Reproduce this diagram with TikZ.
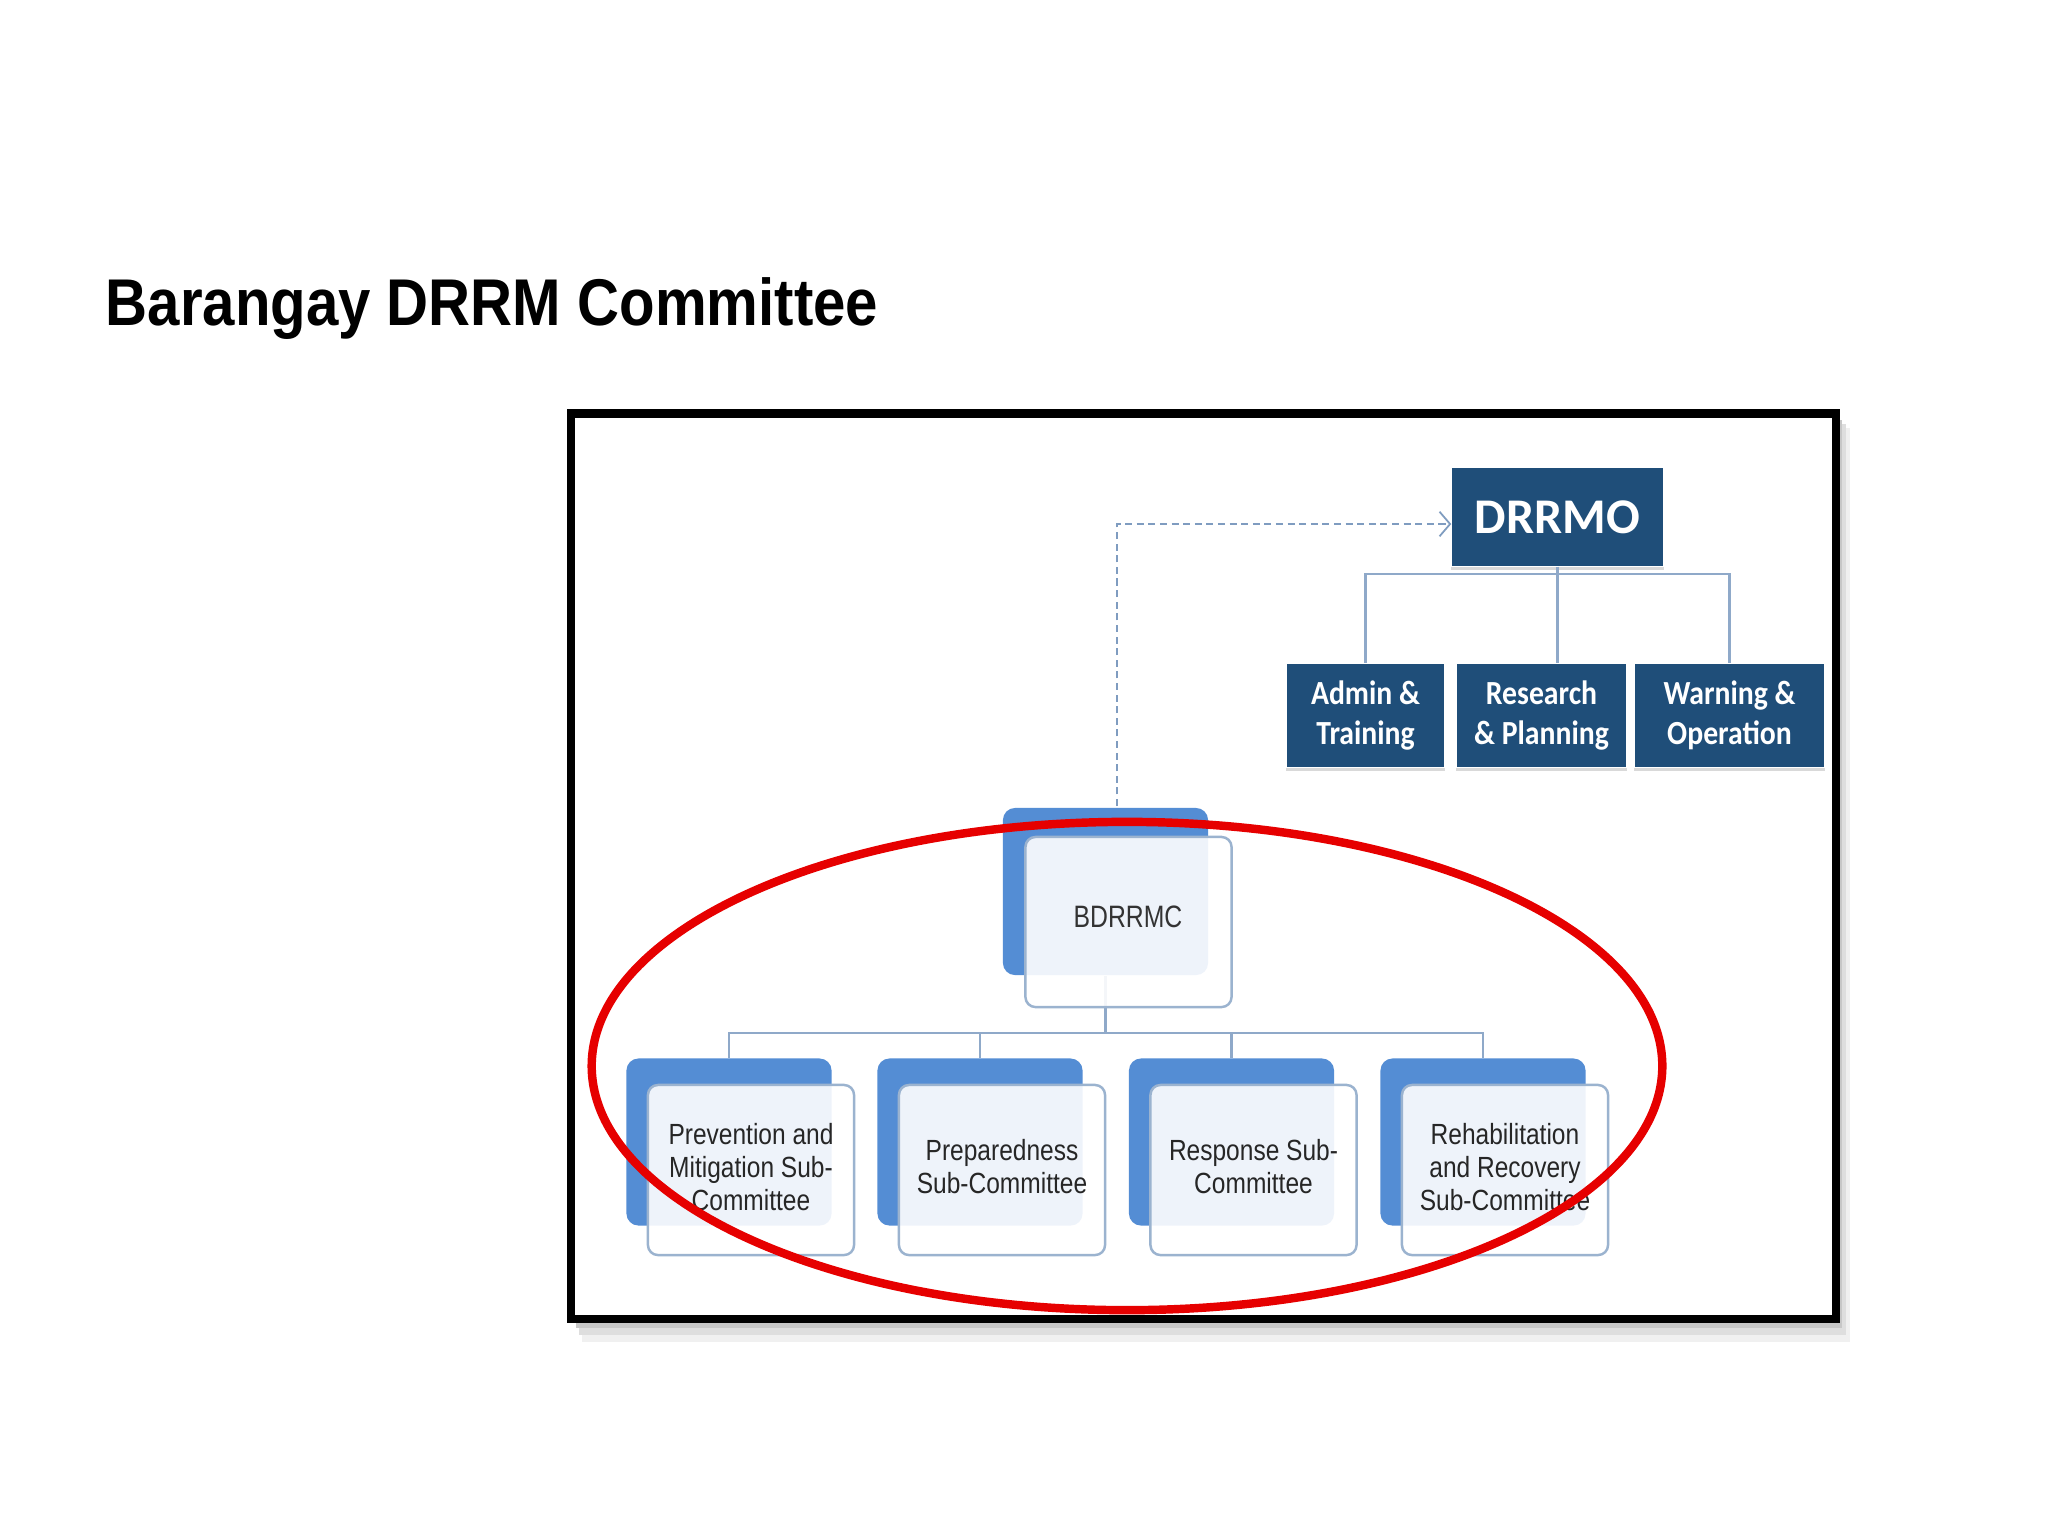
\documentclass[tikz,border=0pt]{standalone}
\usepackage{fontspec}
\setmainfont{Liberation Sans}
\newfontfamily\titlefont[FakeStretch=0.88]{Liberation Sans}
\newfontfamily\subfont[FakeStretch=0.84]{Liberation Sans}
\newfontfamily\bdfont[FakeStretch=0.8]{Liberation Sans}
\newfontfamily\calfont{Carlito}
\newfontfamily\calnarrow[FakeStretch=0.88]{Carlito}
\usetikzlibrary{arrows.meta,calc}
\definecolor{navy}{HTML}{1F4E79}
\definecolor{backblue}{HTML}{548DD4}
\definecolor{frontline}{HTML}{9BB3CF}
\definecolor{connline}{HTML}{8FA9C9}
\definecolor{dashline}{HTML}{7F9CC0}
\definecolor{ellred}{HTML}{E60000}
\tikzset{
  drrmobox/.style={fill=navy, inner sep=0, minimum width=2.11cm, minimum height=0.98cm, text=white,
    font=\calfont\bfseries\fontsize{14.2}{17}\selectfont},
  unitbox/.style={fill=navy, inner sep=0, minimum height=1.03cm, text=white, align=center,
    font=\calnarrow\bfseries\fontsize{9.6}{11.4}\selectfont},
  backbox/.style={fill=backblue, rounded corners=0.12cm, inner sep=0, minimum width=2.05cm, minimum height=1.67cm},
  frontbox/.style={fill=white, fill opacity=0.9, draw=frontline, line width=0.7pt, rounded corners=0.1cm,
    inner sep=0, minimum width=2.06cm, minimum height=1.70cm},
  subtext/.style={text=black!85, align=center, inner sep=0, font=\subfont\fontsize{8.3}{9.4}\selectfont},
  conn/.style={draw=connline, line width=0.6pt},
  shadowline/.style={draw=black!15, line width=0.8pt}
}
\begin{document}
\begin{tikzpicture}[x=0.01cm, y=-0.01cm]
\useasboundingbox (0,0) rectangle (2048,1536);
\fill[white] (0,0) rectangle (2048,1536);

% title
\node[anchor=base west, inner sep=0, font=\titlefont\bfseries\fontsize{18.8}{22}\selectfont] (title) at (105,325) {Barangay DRRM Committee};

% frame with shadow
\fill[black!6] (582,428) rectangle (1850,1342);
\fill[black!13] (579,424) rectangle (1846,1335);
\fill[black!22] (576,420) rectangle (1842,1328);
\draw[black, line width=2.4pt, fill=white] (571,413.5) rectangle (1836,1319);

% DRRMO group
\node[drrmobox] (drrmo) at (1557.5,517) {DRRMO};
\node[unitbox, minimum width=1.57cm] (admin) at (1365.5,715.5) {Admin \&\\Training};
\node[unitbox, minimum width=1.69cm] (research) at (1541.5,715.5) {Research\\\& Planning};
\node[unitbox, minimum width=1.89cm] (warning) at (1729.5,715.5) {Warning \&\\Operation};
\foreach \n in {admin,research,warning}{
  \draw[shadowline] ($(\n.south west)+(0,2)$) -- ($(\n.south east)+(0,2)$);
}
\draw[shadowline] ($(drrmo.south west)+(0,2)$) -- ($(drrmo.south east)+(0,2)$);
\coordinate (tbar) at ($(drrmo.south)+(0,7)$);
\draw[conn] (drrmo.south) -- (drrmo.south |- research.north);
\draw[conn] (tbar) -| (admin.north);
\draw[conn] (tbar) -| (warning.north);

% BDRRMC group
\node[backbox] (bdback) at (1105.5,891.5) {};
\node[backbox] (s1back) at (729,1142) {};
\node[backbox] (s2back) at (980,1142) {};
\node[backbox] (s3back) at (1231.5,1142) {};
\node[backbox] (s4back) at (1483,1142) {};

\coordinate (dstart) at (1117,806);
\draw[dashline, line width=0.5pt, dash pattern=on 2pt off 1.3pt, -{Straight Barb[length=3pt, width=7pt]}]
  (dstart) |- ($(drrmo.west)+(0,7)$);

\coordinate (bbar) at ($(bdback.south)+(0,57)$);
\draw[conn] (bdback.south) -- (bbar);
\draw[conn] (bbar) -| (s1back.north);
\draw[conn] (bbar) -| (s2back.north);
\draw[conn] (bbar) -| (s3back.north);
\draw[conn] (bbar) -| (s4back.north);

\node[frontbox] (bdfront) at (1128.5,922) {};
\node[frontbox] (s1front) at (751,1170) {};
\node[frontbox] (s2front) at (1002,1170) {};
\node[frontbox] (s3front) at (1253.5,1170) {};
\node[frontbox] (s4front) at (1505,1170) {};

\node[inner sep=0, text=black!80, font=\bdfont\fontsize{8.8}{10}\selectfont] (bdtext) at (1128,917) {BDRRMC};
\node[subtext] (t1) at (751,1167) {Prevention and\\Mitigation Sub-\\Committee};
\node[subtext] (t2) at (1002,1167) {Preparedness\\Sub-Committee};
\node[subtext] (t3) at (1253.5,1167) {Response Sub-\\Committee};
\node[subtext] (t4) at (1505,1167) {Rehabilitation\\and Recovery\\Sub-Committee};

% red ellipse
\draw[ellred, line width=2.4pt] (1127,1066) ellipse [x radius=5.35cm, y radius=2.44cm];
\end{tikzpicture}
\end{document}
